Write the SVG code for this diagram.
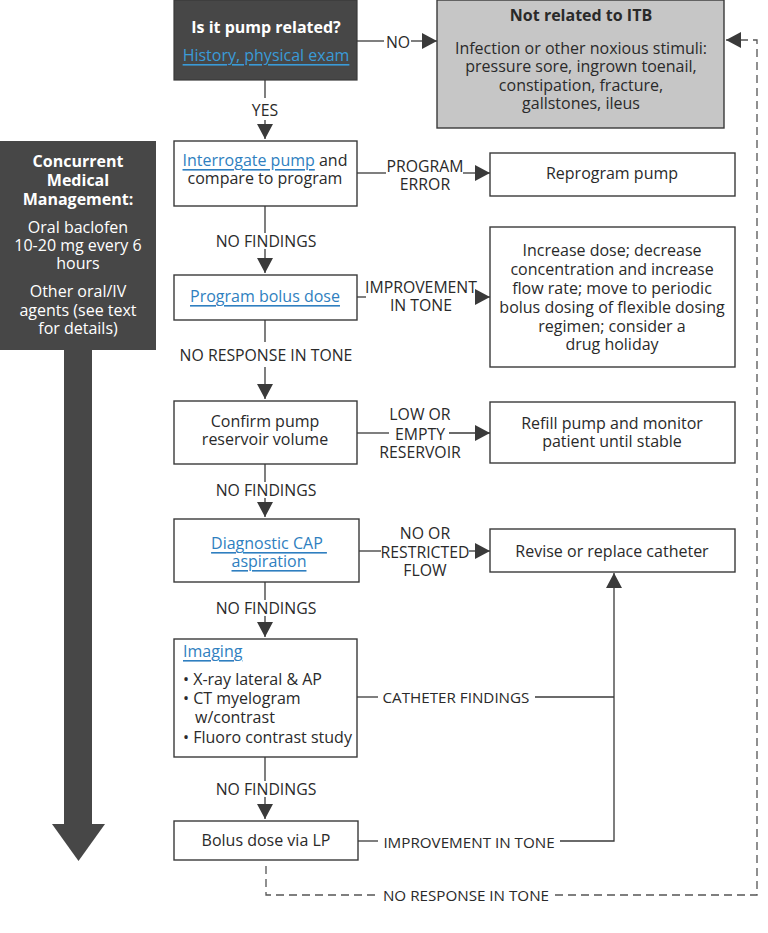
<svg xmlns="http://www.w3.org/2000/svg" width="768" height="933" viewBox="0 0 768 933">
<defs>
<marker id="ah" markerUnits="userSpaceOnUse" markerWidth="16" markerHeight="16" refX="15" refY="8" orient="auto">
<path d="M0,0 L15,8 L0,16 z" fill="#3a3a3a"/>
</marker>
<style>
text{font-family:"Open Sans","Noto Sans","Liberation Sans",sans-serif;font-size:16px;fill:#2a2a2a;text-anchor:middle;dominant-baseline:central}
.box{fill:#fff;stroke:#3a3a3a;stroke-width:1.4}
.dark{fill:#474747;stroke:#3a3a3a;stroke-width:1.2}
.grey{fill:#c6c6c6;stroke:#3a3a3a;stroke-width:1.4}
.w{fill:#fff}
.b{font-weight:bold}
.lnk{fill:#2f7fc0;text-decoration:underline}
.lbl{font-size:15.8px}
.lb2{font-size:15.2px}
.c{fill:none;stroke:#3a3a3a;stroke-width:1.3}
.d{fill:none;stroke:#555;stroke-width:1.3;stroke-dasharray:8,5}
.h{paint-order:stroke;stroke:#fff;stroke-width:4px}
.s{text-anchor:start}
</style>
</defs>
<rect width="768" height="933" fill="#fff"/>

<g id="concurrent">
<rect x="0" y="141" width="156" height="209" fill="#474747"/>
<rect x="64" y="349" width="28" height="476" fill="#474747"/>
<path d="M52,824 L105,824 L78.5,861 z" fill="#474747"/>
<text class="w b"><tspan x="78" y="161">Concurrent</tspan><tspan x="78" y="180">Medical</tspan><tspan x="78" y="199">Management:</tspan></text>
<text class="w"><tspan x="78" y="227">Oral baclofen</tspan><tspan x="78" y="245">10-20 mg every 6</tspan><tspan x="78" y="263">hours</tspan></text>
<text class="w"><tspan x="78" y="291">Other oral/IV</tspan><tspan x="78" y="310">agents (see text</tspan><tspan x="78" y="328">for details)</tspan></text>
</g>

<g id="connectors">
<line class="c" x1="357" y1="41" x2="384" y2="41"/>
<line class="c" x1="411" y1="41" x2="437" y2="41" marker-end="url(#ah)"/>
<text x="398" y="42" class="lbl">NO</text>
<line class="c" x1="265" y1="80" x2="265" y2="98"/>
<line class="c" x1="265" y1="120" x2="265" y2="139" marker-end="url(#ah)"/>
<text x="265" y="110" class="lbl">YES</text>

<line class="c" x1="357" y1="173" x2="386" y2="173"/>
<line class="c" x1="463" y1="173" x2="490" y2="173" marker-end="url(#ah)"/>
<text class="lbl"><tspan x="425" y="166">PROGRAM</tspan><tspan x="425" y="184">ERROR</tspan></text>

<line class="c" x1="265" y1="206" x2="265" y2="273" marker-end="url(#ah)"/>
<text x="266" y="241" class="lbl h">NO FINDINGS</text>

<line class="c" x1="357" y1="297" x2="366" y2="297"/>
<line class="c" x1="476" y1="297" x2="490" y2="297" marker-end="url(#ah)"/>
<text class="lbl"><tspan x="421" y="287">IMPROVEMENT</tspan><tspan x="421" y="305">IN TONE</tspan></text>

<line class="c" x1="265" y1="320" x2="265" y2="342"/>
<line class="c" x1="265" y1="367" x2="265" y2="399" marker-end="url(#ah)"/>
<text x="266" y="355" class="lbl">NO RESPONSE IN TONE</text>

<line class="c" x1="357" y1="433" x2="389" y2="433"/>
<line class="c" x1="449" y1="433" x2="490" y2="433" marker-end="url(#ah)"/>
<text class="lbl"><tspan x="420" y="414">LOW OR</tspan><tspan x="420" y="434">EMPTY</tspan><tspan x="420" y="452">RESERVOIR</tspan></text>

<line class="c" x1="265" y1="464" x2="265" y2="517" marker-end="url(#ah)"/>
<text x="266" y="490" class="lbl h">NO FINDINGS</text>

<line class="c" x1="359" y1="551" x2="381" y2="551"/>
<line class="c" x1="469" y1="551" x2="490" y2="551" marker-end="url(#ah)"/>
<text class="lbl"><tspan x="425" y="533">NO OR</tspan><tspan x="425" y="552">RESTRICTED</tspan><tspan x="425" y="570">FLOW</tspan></text>

<line class="c" x1="265" y1="582" x2="265" y2="637" marker-end="url(#ah)"/>
<text x="266" y="608" class="lbl h">NO FINDINGS</text>

<line class="c" x1="357" y1="697" x2="378" y2="697"/>
<line class="c" x1="535" y1="697" x2="614" y2="697"/>
<text x="456" y="697" class="lb2">CATHETER FINDINGS</text>

<line class="c" x1="265" y1="757" x2="265" y2="819" marker-end="url(#ah)"/>
<text x="266" y="789" class="lbl h">NO FINDINGS</text>

<line class="c" x1="358" y1="841" x2="378" y2="841"/>
<polyline class="c" points="560,841 614,841 614,573" marker-end="url(#ah)"/>
<text x="469" y="842" class="lb2">IMPROVEMENT IN TONE</text>

<polyline class="d" points="266,866 266,895 378,895"/>
<polyline class="d" points="555,895 757,895 757,40 742,40"/>
<line class="c" x1="742" y1="40" x2="726" y2="40" marker-end="url(#ah)"/>
<text x="466" y="895" class="lb2">NO RESPONSE IN TONE</text>
</g>

<g id="pump-related">
<rect x="174" y="0" width="183" height="80" class="dark"/>
<text x="266" y="27" class="w b">Is it pump related?</text>
<text x="266" y="55" class="lnk" style="fill:#3a9bd8">History, physical exam</text>
</g>

<g id="not-itb">
<rect x="437" y="0" width="287" height="128" class="grey"/>
<text x="581" y="15" class="b">Not related to ITB</text>
<text><tspan x="581" y="48">Infection or other noxious stimuli:</tspan><tspan x="581" y="66">pressure sore, ingrown toenail,</tspan><tspan x="581" y="85">constipation, fracture,</tspan><tspan x="581" y="103">gallstones, ileus</tspan></text>
</g>

<g id="interrogate">
<rect x="174" y="141" width="183" height="65" class="box"/>
<text><tspan x="265" y="160"><tspan class="lnk">Interrogate pump</tspan> and</tspan><tspan x="265" y="178">compare to program</tspan></text>
</g>

<g id="reprogram">
<rect x="490" y="153" width="245" height="43" class="box"/>
<text x="612" y="173">Reprogram pump</text>
</g>

<g id="bolus">
<rect x="174" y="275" width="183" height="45" class="box"/>
<text x="265" y="296" class="lnk">Program bolus dose</text>
</g>

<g id="increase">
<rect x="490" y="227" width="245" height="140" class="box"/>
<text><tspan x="612" y="250">Increase dose; decrease</tspan><tspan x="612" y="269">concentration and increase</tspan><tspan x="612" y="288">flow rate; move to periodic</tspan><tspan x="612" y="307">bolus dosing of flexible dosing</tspan><tspan x="612" y="326">regimen; consider a</tspan><tspan x="612" y="344">drug holiday</tspan></text>
</g>

<g id="confirm">
<rect x="174" y="401" width="183" height="63" class="box"/>
<text><tspan x="265" y="421">Confirm pump</tspan><tspan x="265" y="439">reservoir volume</tspan></text>
</g>

<g id="refill">
<rect x="490" y="402" width="245" height="61" class="box"/>
<text><tspan x="612" y="423">Refill pump and monitor</tspan><tspan x="612" y="441">patient until stable</tspan></text>
</g>

<g id="diagnostic">
<rect x="174" y="519" width="185" height="63" class="box"/>
<text class="lnk"><tspan x="269" y="543">Diagnostic CAP </tspan><tspan x="269" y="561">aspiration</tspan></text>
</g>

<g id="revise">
<rect x="490" y="529" width="245" height="43" class="box"/>
<text x="612" y="551">Revise or replace catheter</text>
</g>

<g id="imaging">
<rect x="174" y="639" width="183" height="118" class="box"/>
<text x="183" y="651" class="lnk s">Imaging</text>
<text class="s"><tspan x="183" y="679">• X-ray lateral &amp; AP</tspan><tspan x="183" y="698">• CT myelogram</tspan><tspan x="195" y="717">w/contrast</tspan><tspan x="183" y="737">• Fluoro contrast study</tspan></text>
</g>

<g id="lp">
<rect x="174" y="821" width="184" height="39" class="box"/>
<text x="266" y="840">Bolus dose via LP</text>
</g>
</svg>
